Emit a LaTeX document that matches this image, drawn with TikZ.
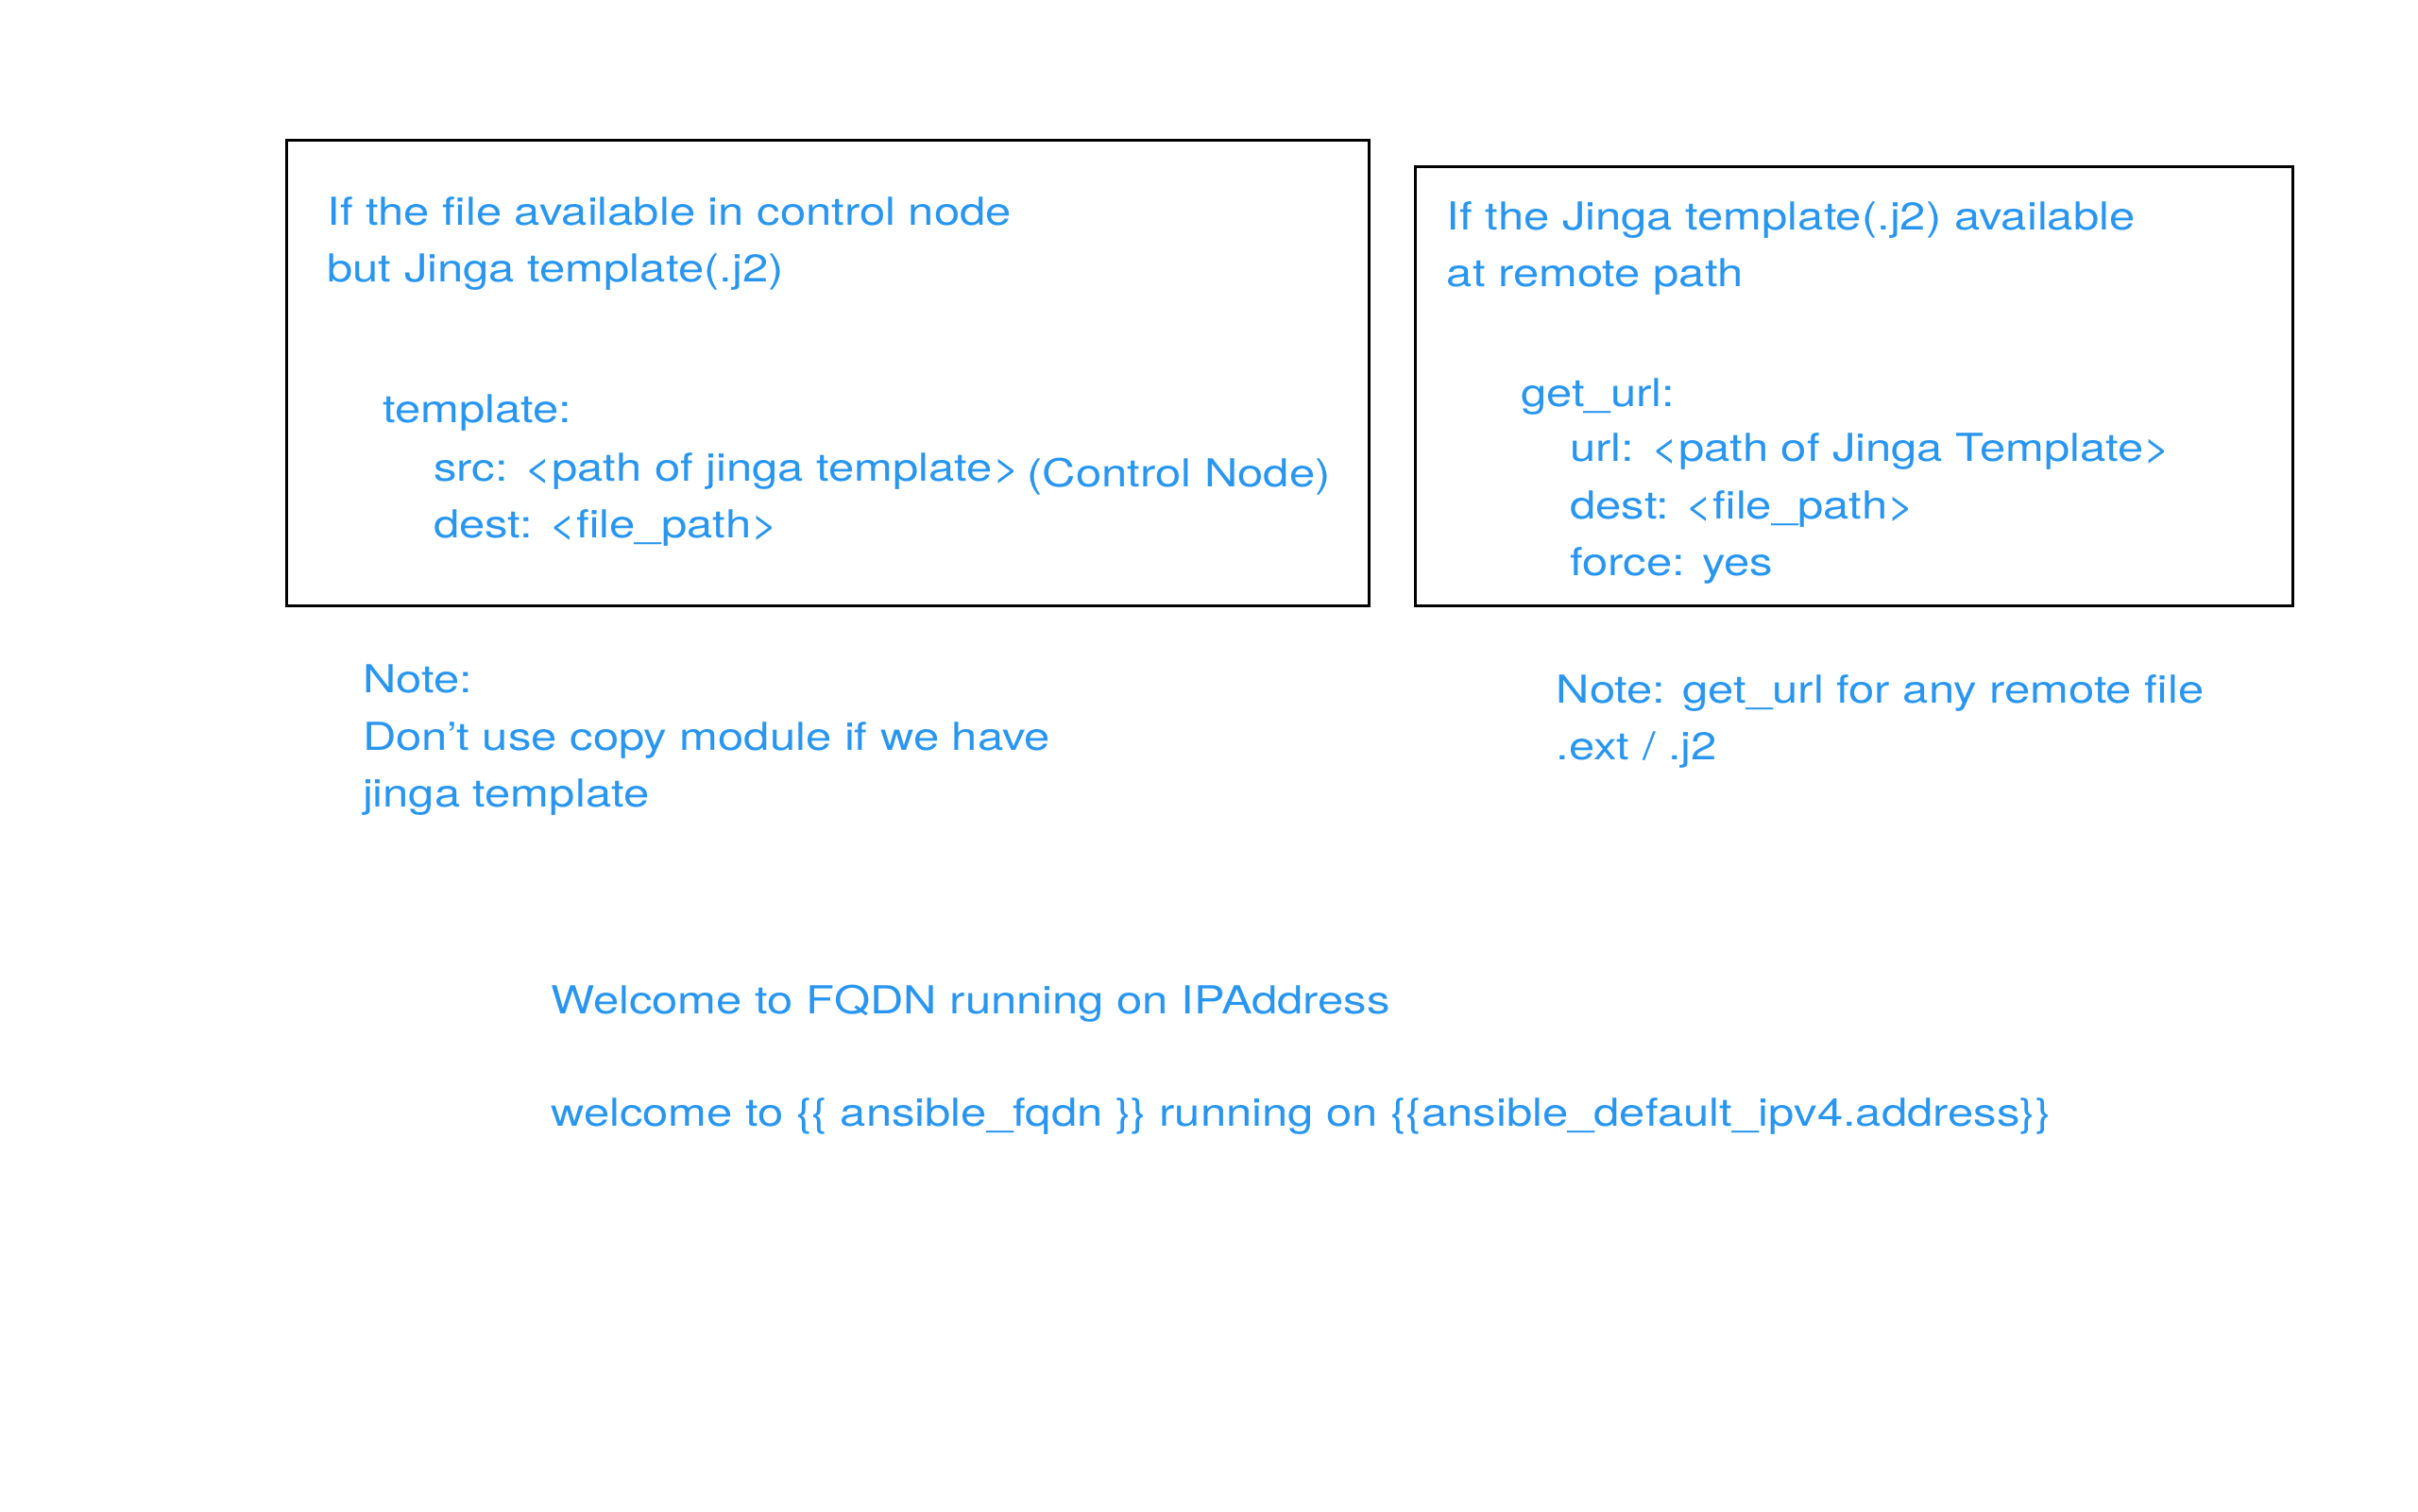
\documentclass[tikz,border=0pt]{standalone}
\usepackage{fontspec}
\setmainfont{TeX Gyre Heros}[FakeStretch=1.2]
\definecolor{tb}{RGB}{40,150,240}
\begin{document}
\begin{tikzpicture}[x=1pt,y=-1pt,
  t/.style={anchor=west,text=tb,inner sep=0pt,font=\fontsize{25}{37}\selectfont,align=left},
  box/.style={draw=black,line width=2pt}]
\useasboundingbox (0,0) rectangle (1568,980);
\draw[box] (186,91) rectangle (888,393);
\draw[box] (918,108) rectangle (1487,393);
\node[t] (a1) at (212,158) {If the file available in control node\\but Jinga template(.j2)};
\node[t] (a2) at (248,268) {template:};
\node[t] (a3) at (281,324) {src: \textless path of jinga template\textgreater\\dest: \textless file\_path\textgreater};
\node[t] (a4) at (666,309) {(Control Node)};
\node[t] (b1) at (938,161) {If the Jinga template(.j2) available\\at remote path};
\node[t] (b2) at (986,257) {get\_url:};
\node[t] (b3) at (1018,330) {url: \textless path of Jinga Template\textgreater\\dest: \textless file\_path\textgreater\\force: yes};
\node[t] (n1) at (235,480) {Note:\\Don’t use copy module if we have\\jinga template};
\node[t] (n2) at (1009,468) {Note: get\_url for any remote file\\.ext / .j2};
\node[t] (w1) at (357,651) {Welcome to FQDN running on IPAddress};
\node[t] (w2) at (357,724) {welcome to \{\{ ansible\_fqdn \}\} running on \{\{ansible\_default\_ipv4.address\}\}};
\end{tikzpicture}
\end{document}
